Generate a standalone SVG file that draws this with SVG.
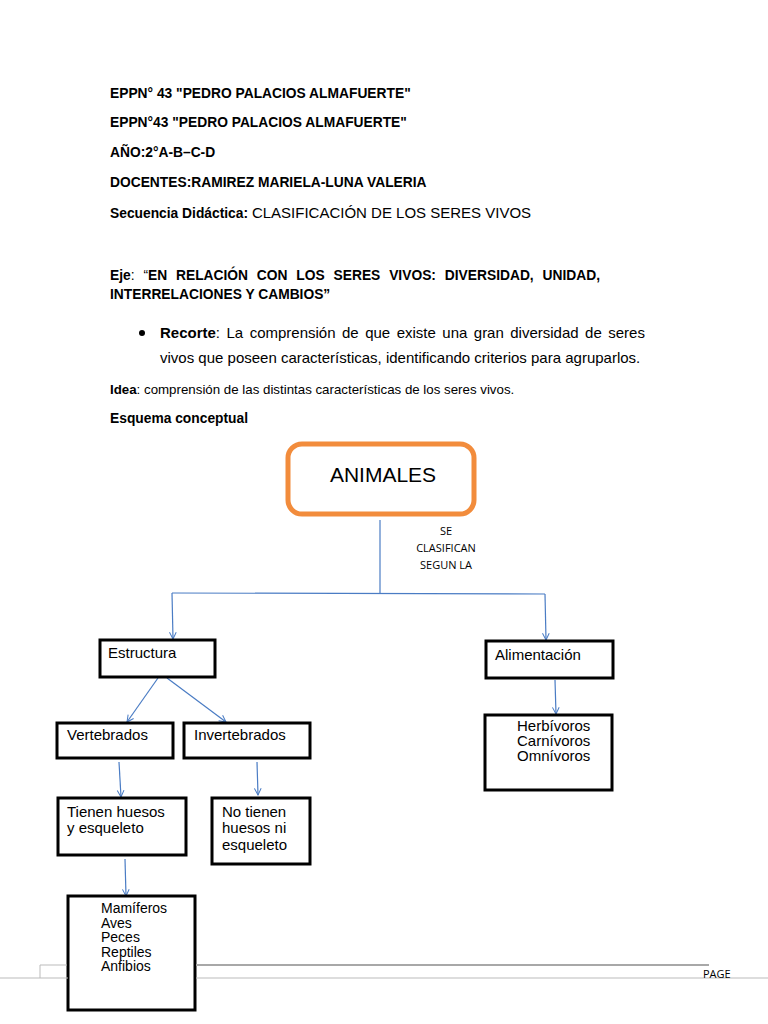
<svg xmlns="http://www.w3.org/2000/svg" width="768" height="1024" viewBox="0 0 768 1024">
<style>
.h{font-family:"Liberation Sans",Arial,sans-serif;font-size:13.8px;font-weight:bold;fill:#000}
.t{font-family:"Liberation Sans",Arial,sans-serif;font-size:15px;fill:#000}
.s{font-family:"Liberation Sans",Arial,sans-serif;font-size:13.3px;fill:#000}
.n{font-family:"Liberation Sans",Arial,sans-serif;font-size:15px;fill:#000}
.m{font-family:"Liberation Sans",Arial,sans-serif;font-size:14px;fill:#000}
.box{fill:#fff;stroke:#000;stroke-width:3}
.c{stroke:#4a7cc4;stroke-width:1.2;fill:none}
</style>
<defs><marker id="a" viewBox="0 0 10 10" refX="9" refY="5" markerWidth="7" markerHeight="7" orient="auto"><path d="M1,1 L9,5 L1,9" fill="none" stroke="#4a7cc4" stroke-width="1.2"/></marker></defs>
<rect width="768" height="1024" fill="#fff"/>
<text class="h" x="110" y="98">EPPN° 43 "PEDRO PALACIOS ALMAFUERTE"</text>
<text class="h" x="110" y="127">EPPN°43 "PEDRO PALACIOS ALMAFUERTE"</text>
<text class="h" x="110" y="157">AÑO:2°A-B–C-D</text>
<text class="h" x="110" y="187">DOCENTES:RAMIREZ MARIELA-LUNA VALERIA</text>
<text x="110" y="218"><tspan class="h">Secuencia Didáctica: </tspan><tspan class="t">CLASIFICACIÓN DE LOS SERES VIVOS</tspan></text>
<text class="h" x="110" y="280" word-spacing="5">Eje<tspan font-weight="normal">: “</tspan>EN RELACIÓN CON LOS SERES VIVOS: DIVERSIDAD, UNIDAD,</text>
<text class="h" x="110" y="299">INTERRELACIONES Y CAMBIOS”</text>
<circle cx="142" cy="333" r="3" fill="#000"/>
<text class="t" x="160" y="338" word-spacing="2.3"><tspan font-weight="bold">Recorte</tspan>: La comprensión de que existe una gran diversidad de seres</text>
<text class="t" x="160" y="363">vivos que poseen características, identificando criterios para agruparlos.</text>
<text class="s" x="110" y="394"><tspan font-weight="bold">Idea</tspan>: comprensión de las distintas características de los seres vivos.</text>
<text class="h" x="110" y="423">Esquema conceptual</text>

<g id="connectors">
<polyline class="c" points="380,520 380,593"/>
<polyline class="c" points="172,593 545,594"/>
<line class="c" x1="172" y1="593" x2="173" y2="639" marker-end="url(#a)"/>
<line class="c" x1="545" y1="594" x2="546" y2="640" marker-end="url(#a)"/>
<line class="c" x1="555" y1="680" x2="556" y2="714" marker-end="url(#a)"/>
<line class="c" x1="158" y1="678" x2="127" y2="722" marker-end="url(#a)"/>
<line class="c" x1="167" y1="678" x2="226" y2="722" marker-end="url(#a)"/>
<line class="c" x1="119" y1="762" x2="121" y2="797" marker-end="url(#a)"/>
<line class="c" x1="257" y1="762" x2="258" y2="795" marker-end="url(#a)"/>
<line class="c" x1="125" y1="859" x2="126" y2="896" marker-end="url(#a)"/>
</g>
<text font-family="'Open Sans','DejaVu Sans',sans-serif" font-size="11" text-anchor="middle" x="446" y="535">SE</text>
<text font-family="'Open Sans','DejaVu Sans',sans-serif" font-size="11" text-anchor="middle" x="446" y="552">CLASIFICAN</text>
<text font-family="'Open Sans','DejaVu Sans',sans-serif" font-size="11" text-anchor="middle" x="446" y="569">SEGUN LA</text>

<g id="animales"><rect x="288" y="444" width="186" height="70" rx="14" fill="#fff" stroke="#f28c3c" stroke-width="5"/><text x="383" y="482" text-anchor="middle" font-family="'Liberation Sans',Arial,sans-serif" font-size="21">ANIMALES</text></g>
<g id="estructura"><rect class="box" x="100" y="640" width="115" height="37"/><text class="n" x="108" y="658">Estructura</text></g>
<g id="alimentacion"><rect class="box" x="486" y="641" width="127" height="37"/><text class="n" x="495" y="660">Alimentación</text></g>
<g id="tipos"><rect class="box" x="485" y="715" width="127" height="75"/><text class="n" x="517" y="731">Herbívoros</text><text class="n" x="517" y="746">Carnívoros</text><text class="n" x="517" y="761">Omnívoros</text></g>
<g id="vertebrados"><rect class="box" x="57" y="723" width="116" height="35"/><text class="n" x="67" y="740">Vertebrados</text></g>
<g id="invertebrados"><rect class="box" x="184" y="723" width="126" height="35"/><text class="n" x="194" y="740">Invertebrados</text></g>
<g id="tienen"><rect class="box" x="58" y="798" width="128" height="57"/><text class="n" x="67" y="817">Tienen huesos</text><text class="n" x="67" y="833">y esqueleto</text></g>
<g id="notienen"><rect class="box" x="212" y="798" width="98" height="66"/><text class="n" x="222" y="817">No tienen</text><text class="n" x="222" y="833">huesos ni</text><text class="n" x="222" y="850">esqueleto</text></g>
<g id="mamiferos"><rect class="box" x="68" y="896" width="127" height="114"/><text class="m" x="101" y="913">Mamíferos</text><text class="m" x="101" y="927.5">Aves</text><text class="m" x="101" y="942">Peces</text><text class="m" x="101" y="956.5">Reptiles</text><text class="m" x="101" y="971">Anfibios</text></g>

<line x1="196" y1="965" x2="709" y2="965" stroke="#a8a8a8" stroke-width="2"/>
<polyline points="67,965 40,965 40,978" fill="none" stroke="#bbb" stroke-width="1"/>
<line x1="0" y1="978" x2="68" y2="978" stroke="#bbb" stroke-width="1"/>
<line x1="196" y1="978" x2="768" y2="978" stroke="#bbb" stroke-width="1"/>
<text x="703" y="978" font-family="'Open Sans','DejaVu Sans',sans-serif" font-size="11">PAGE</text>
</svg>
